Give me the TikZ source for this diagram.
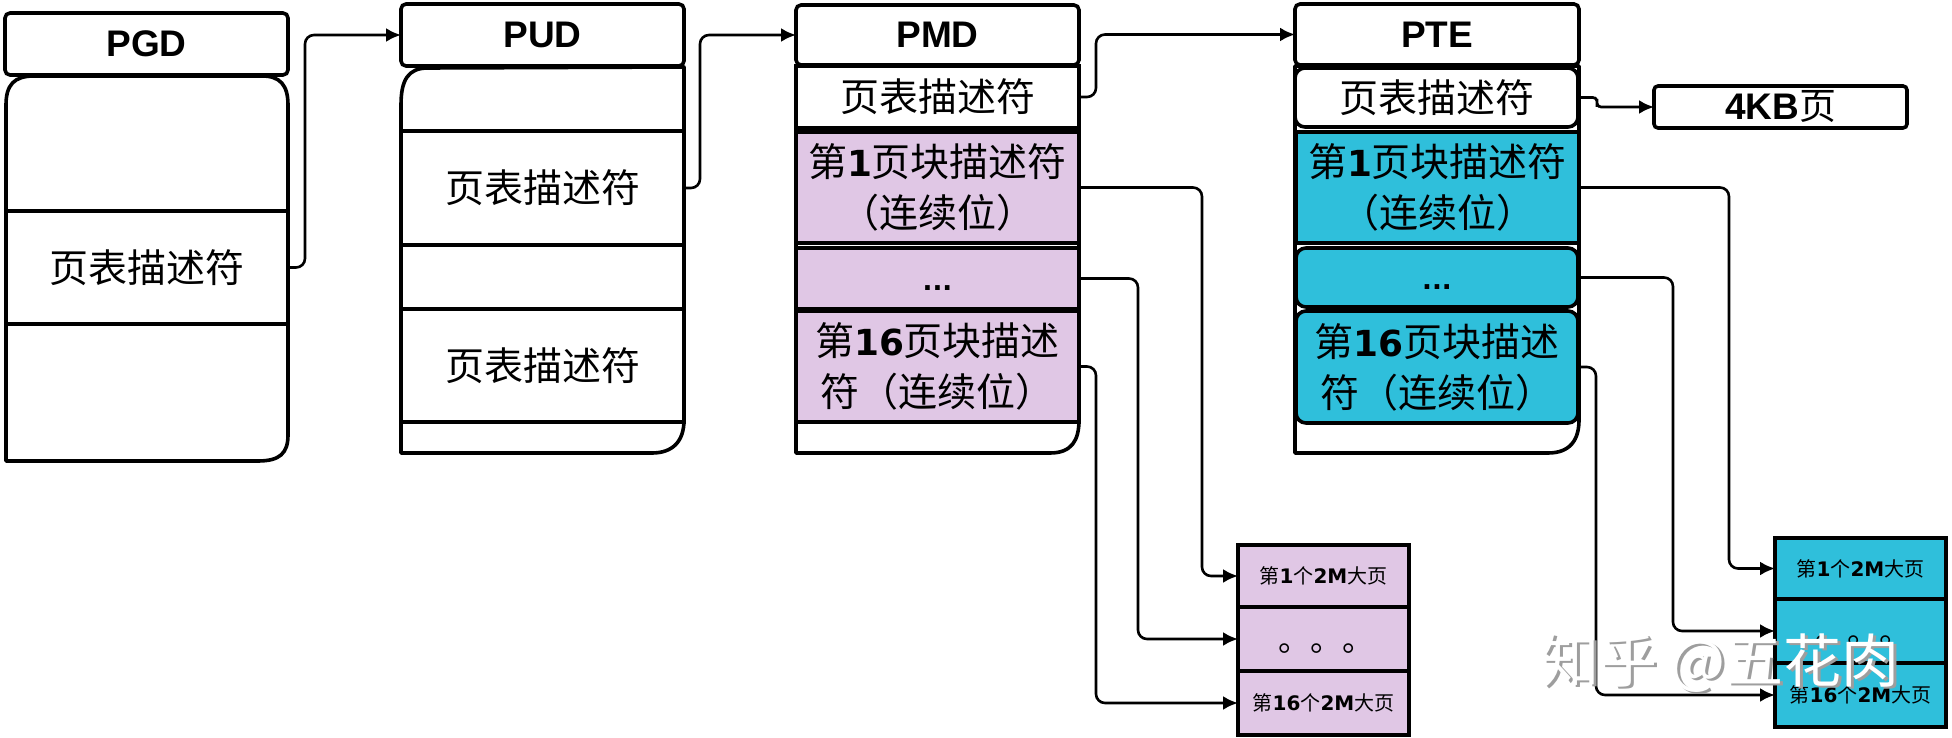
\documentclass[tikz,border=0pt]{standalone}
\usepackage{fontspec}
\setmainfont{Noto Sans CJK SC}
\newfontfamily\digitfont{DejaVu Sans}
\newfontfamily\bigdigitfont[Scale=0.92]{DejaVu Sans}
\newfontfamily\headfont{Liberation Sans}
\usetikzlibrary{arrows.meta}
\definecolor{pmdfill}{RGB}{224,199,229}
\definecolor{ptefill}{RGB}{47,191,219}
\newcommand\nm[1]{{\bigdigitfont\bfseries #1}}
\newcommand\sm[1]{{\digitfont\bfseries #1}}
\newcommand\threedots{\raisebox{-3pt}{\sm{\fontsize{26}{28}\selectfont ...}}\vphantom{Ag}}
\newcommand\rings{\hspace{6pt}\raisebox{-5pt}{。。。}\vphantom{Ag}}
\newcommand\cellat[7]{\node[cellbox,#2,anchor=north west,minimum width=\the\numexpr#5-#3\relax pt,minimum height=\the\numexpr#6-#4\relax pt] (#1) at (#3,#4) {#7};}
\tikzset{
  outline/.style={line width=3.6pt,line join=round},
  cellbox/.style={draw,line width=3.6pt,inner sep=0pt,outer sep=0pt,align=center,font=\fontsize{39}{51}\selectfont},
  head/.style={rounded corners=5pt,font=\headfont\bfseries\fontsize{37}{40}\selectfont},
  white cell/.style={fill=white},
  purple cell/.style={fill=pmdfill},
  cyan cell/.style={fill=ptefill},
  round cell/.style={rounded corners=10pt},
  small/.style={font=\fontsize{20}{24}\selectfont},
  conn/.style={line width=2.6pt,rounded corners=9pt,-{Latex[length=15pt,width=14pt]}},
  mark shadow/.style={text=black!38,font=\fontsize{58}{60}\selectfont,inner sep=0pt},
  mark text/.style={text=white,font=\fontsize{58}{60}\selectfont,inner sep=0pt}
}
\begin{document}
\begin{tikzpicture}[x=1pt,y=-1pt]
\useasboundingbox (0,0) rectangle (1952,738);
% PGD
\draw[outline] (6,461) -- (6,105) .. controls (6,85) and (14,76) .. (34,76) -- (262,76) .. controls (280,76) and (288,85) .. (288,105) -- (288,435) .. controls (288,453) and (280,461) .. (258,461) -- cycle;
\cellat{pgdhead}{head,white cell}{5}{13}{288}{75}{PGD}
\cellat{pgdone}{white cell}{6}{211}{288}{324}{页表描述符}
% PUD
\draw[outline] (401,453) -- (401,105) .. controls (401,80) and (408,68) .. (428,68) -- (684,67) -- (684,420) .. controls (684,442) and (672,453) .. (652,453) -- cycle;
\cellat{pudhead}{head,white cell}{401}{4}{684}{66}{PUD}
\cellat{pudone}{white cell}{401}{131}{684}{245}{页表描述符}
\cellat{pudtwo}{white cell}{401}{309}{684}{422}{页表描述符}
% PMD
\draw[outline] (796,66) -- (796,453) -- (1050,453) .. controls (1072,453) and (1079,440) .. (1079,420) -- (1079,66) -- cycle;
\cellat{pmdhead}{head,white cell}{796}{5}{1079}{65}{PMD}
\cellat{pmddesc}{white cell}{796}{66}{1079}{128}{页表描述符}
\cellat{pmdfirst}{purple cell}{796}{132}{1079}{243}{第\nm{1}页块描述符\\（连续位）}
\cellat{pmddots}{purple cell}{796}{248}{1079}{309}{\threedots}
\cellat{pmdlast}{purple cell}{796}{311}{1079}{422}{第\nm{16}页块描述\\符（连续位）}
% PTE
\draw[outline] (1295,66) -- (1295,453) -- (1548,453) .. controls (1570,453) and (1579,440) .. (1579,420) -- (1579,66) -- cycle;
\cellat{ptehead}{head,white cell}{1295}{4}{1579}{65}{PTE}
\cellat{ptedesc}{white cell,round cell}{1295}{68}{1578}{127}{页表描述符}
\cellat{ptefirst}{cyan cell}{1296}{132}{1579}{243}{第\nm{1}页块描述符\\（连续位）}
\cellat{ptedots}{cyan cell,round cell}{1296}{248}{1578}{307}{\threedots}
\cellat{ptelast}{cyan cell,round cell}{1296}{311}{1578}{423}{第\nm{16}页块描述\\符（连续位）}
% 4KB
\cellat{kbpage}{white cell,rounded corners=4pt,font=\headfont\bfseries\fontsize{37}{40}\selectfont}{1654}{86}{1907}{128}{4KB{\rmfamily\mdseries 页}}
% left pages
\cellat{lpone}{purple cell,small}{1238}{545}{1409}{607}{第\sm{1}个\sm{2M}大页}
\cellat{lptwo}{purple cell,font=\fontsize{32}{36}\selectfont}{1238}{607}{1409}{671}{\rings}
\cellat{lpthree}{purple cell,small}{1238}{671}{1409}{735}{第\sm{16}个\sm{2M}大页}
% right pages
\cellat{rpone}{cyan cell,small}{1775}{538}{1946}{599}{第\sm{1}个\sm{2M}大页}
\cellat{rptwo}{cyan cell,font=\fontsize{32}{36}\selectfont}{1775}{599}{1946}{663}{\rings}
\cellat{rpthree}{cyan cell,small}{1775}{663}{1946}{727}{第\sm{16}个\sm{2M}大页}
% connectors
\draw[conn] (pgdone.east) -| (305,100) |- (pudhead.west);
\draw[conn] (pudone.east) -| (700,100) |- (pmdhead.west);
\draw[conn] (pmddesc.east) -| (1096,60) |- (ptehead.west);
\draw[conn,rounded corners=4pt] (ptedesc.east) -| (1597,103) |- (kbpage.west);
\draw[conn] (pmdfirst.east) -| (1202,400) |- (lpone.west);
\draw[conn] (pmddots.east) -| (1138,400) |- (lptwo.west);
\draw[conn] (pmdlast.east) -| (1096,500) |- (lpthree.west);
\draw[conn] (ptefirst.east) -| (1729,400) |- (rpone.west);
\draw[conn] (ptedots.east) -| (1673,400) |- (rptwo.west);
\draw[conn] (ptelast.east) -| (1596,500) |- (rpthree.west);
% watermark
\node[mark shadow,anchor=west] (markback) at (1544,665) {知乎 @五花肉};
\node[mark text,anchor=west] (markfront) at (1541,663) {知乎 @五花肉};
\end{tikzpicture}
\end{document}
